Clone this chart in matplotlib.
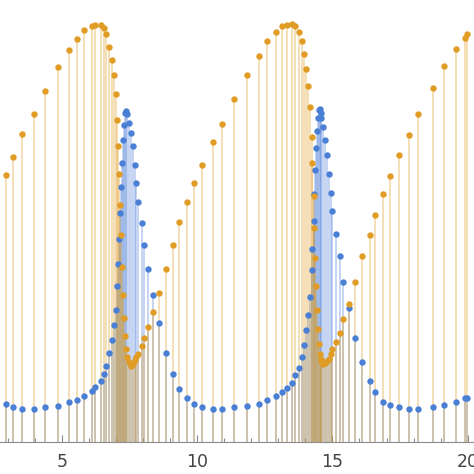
import matplotlib.pyplot as plt
from matplotlib.ticker import MultipleLocator

# time grid shared by both series
t = [2.93, 3.21, 3.54, 3.97, 4.38, 4.86, 5.27, 5.55, 5.83, 6.11, 6.24, 6.45,
     6.57, 6.65, 6.76, 6.84, 6.92, 7.00, 7.06, 7.08, 7.13, 7.15, 7.20, 7.22,
     7.27, 7.29, 7.34, 7.36, 7.41, 7.48, 7.55, 7.62, 7.69, 7.76, 7.83, 7.97,
     8.03, 8.17, 8.37, 8.58, 8.86,
     9.12, 9.34, 9.63, 9.90, 10.18, 10.58, 10.92, 11.35, 11.83, 12.30, 12.58,
     12.92, 13.14, 13.34, 13.50, 13.62, 13.77, 13.89, 13.96, 14.04, 14.11, 14.17,
     14.24, 14.25, 14.31, 14.32, 14.37, 14.38, 14.44, 14.45, 14.51, 14.53, 14.56,
     14.59, 14.64, 14.73, 14.79, 14.86, 14.93, 15.00, 15.14, 15.27, 15.40, 15.62,
     15.82, 16.09, 16.38, 16.58, 16.86, 17.13, 17.47, 17.82, 18.17, 18.73, 19.13,
     19.55, 19.89, 19.97]

prey = [2.67, 2.85, 3.08, 3.28, 3.51, 3.75, 3.92, 4.03, 4.12, 4.16, 4.17, 4.17,
        4.14, 4.08, 3.95, 3.82, 3.67, 3.48, 3.22, 2.96, 2.68, 2.37, 2.07, 1.75,
        1.47, 1.24, 1.06, 0.93, 0.85, 0.80, 0.76, 0.78, 0.82, 0.85, 0.88, 0.96,
        1.04, 1.15, 1.30, 1.49, 1.73,
        1.97, 2.20, 2.40, 2.59, 2.77, 3.00, 3.18, 3.43, 3.67, 3.86, 4.01,
        4.10, 4.16, 4.17, 4.18, 4.16, 4.10, 4.01, 3.88, 3.73, 3.56, 3.35,
        3.05, 2.79, 2.46, 2.14, 1.84, 1.56, 1.32, 1.13, 0.98, 0.88, 0.83,
        0.81, 0.78, 0.79, 0.81, 0.83, 0.88, 0.93, 1.00, 1.09, 1.23, 1.38,
        1.60, 1.86, 2.07, 2.27, 2.48, 2.66, 2.87, 3.07, 3.28, 3.54, 3.76,
        3.93, 4.04, 4.08]

predator = [0.38, 0.35, 0.33, 0.33, 0.35, 0.36, 0.40, 0.42, 0.46, 0.51, 0.55, 0.61,
            0.68, 0.76, 0.89, 1.02, 1.17, 1.32, 1.56, 1.78, 2.03, 2.29, 2.55, 2.79,
            3.02, 3.17, 3.29, 3.31, 3.28, 3.19, 3.09, 2.96, 2.77, 2.59, 2.40, 2.19,
            1.97, 1.73, 1.47, 1.19, 0.89,
            0.68, 0.53, 0.44, 0.38, 0.35, 0.33, 0.33, 0.35, 0.36, 0.38, 0.42,
            0.46, 0.50, 0.54, 0.59, 0.67, 0.74, 0.85, 0.97, 1.12, 1.27, 1.45,
            1.72, 1.93, 2.21, 2.48, 2.72, 2.94, 3.11, 3.24, 3.32, 3.33, 3.29,
            3.24, 3.15, 3.02, 2.87, 2.68, 2.49, 2.31, 2.08, 1.86, 1.60, 1.34,
            1.04, 0.80, 0.61, 0.50, 0.40, 0.37, 0.35, 0.33, 0.33, 0.35, 0.37,
            0.40, 0.44, 0.44]

xticks = [5, 10, 15, 20]

orange = '#e09c24'
blue = '#4a7fd6'

fig = plt.figure(figsize=(4.74, 4.74), dpi=100)
ax = fig.add_axes([0, 0, 1, 1])

# filling to the axis, blue first so the orange sits over it
ax.vlines(t, 0, predator, colors=blue, alpha=0.32, linewidth=1.4, zorder=1)
ax.vlines(t, 0, prey, colors=orange, alpha=0.33, linewidth=1.4, zorder=2)
ax.plot(t, predator, 'o', color=blue, markersize=4.6, markeredgewidth=0, zorder=3)
ax.plot(t, prey, 'o', color=orange, markersize=4.6, markeredgewidth=0, zorder=4)

ax.set_xlim(2.72, 20.23)
ax.set_ylim(-0.325, 4.415)

for s in ['left', 'right', 'top']:
    ax.spines[s].set_visible(False)
ax.spines['bottom'].set_position(('data', 0))
ax.spines['bottom'].set_color('#8c8c8c')
ax.spines['bottom'].set_linewidth(0.8)
ax.spines['bottom'].set_zorder(5)

ax.set_xticks(xticks)
ax.xaxis.set_minor_locator(MultipleLocator(1))
ax.tick_params(axis='x', which='major', direction='in', length=5, width=0.8,
               color='#8c8c8c', labelsize=12.5, labelcolor='#444444', pad=8)
ax.tick_params(axis='x', which='minor', direction='in', length=3, width=0.8,
               color='#8c8c8c')
ax.set_yticks([])

fig.savefig('out.png', dpi=100)
